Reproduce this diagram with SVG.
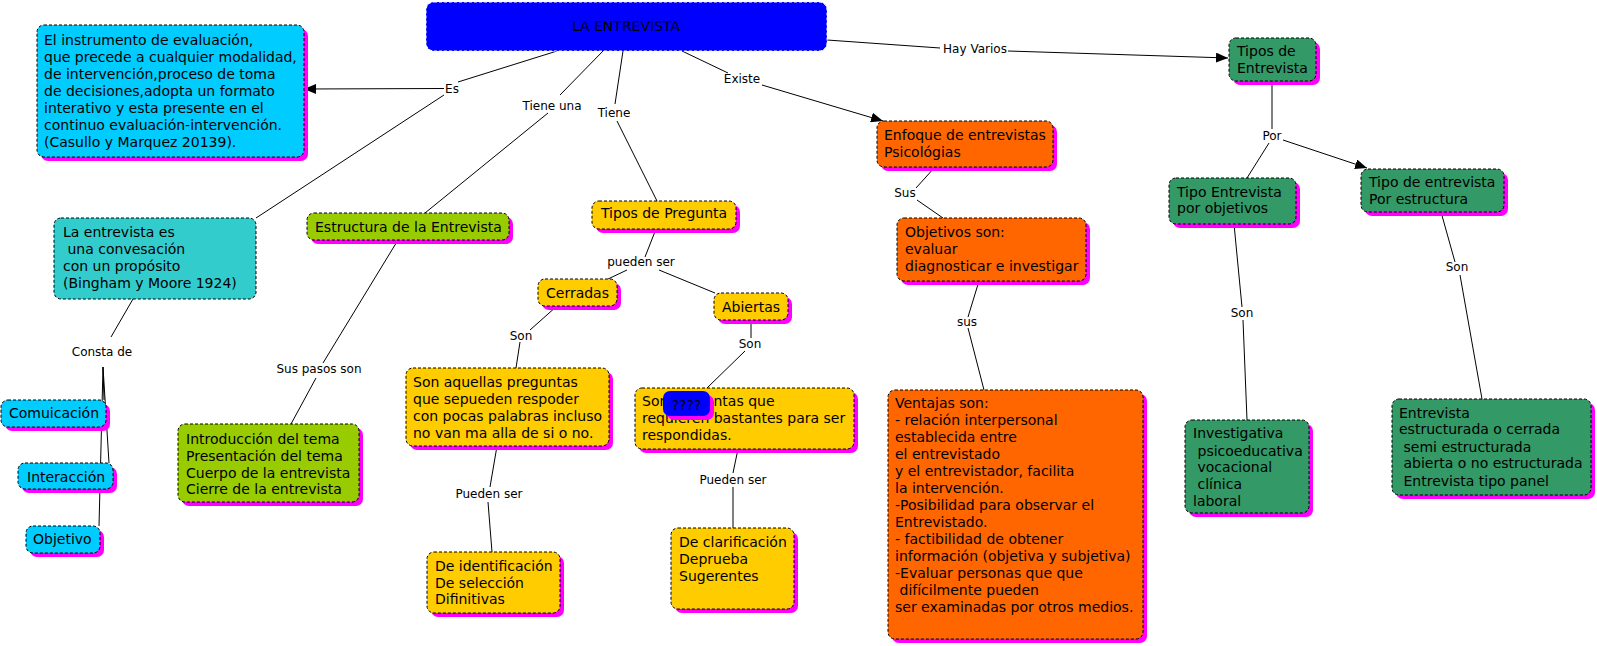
<svg xmlns="http://www.w3.org/2000/svg" width="1597" height="646" viewBox="0 0 1597 646">
<style>
.n{stroke:#000;stroke-width:1;stroke-dasharray:3,2}
.sh{fill:#FF00FF}
.t{font-family:"DejaVu Sans",Verdana,sans-serif;font-size:14px;fill:#000}
.l{font-family:"DejaVu Sans",Verdana,sans-serif;font-size:12px;fill:#000;text-anchor:middle}
.c line{stroke:#000;stroke-width:1}
.cyan{fill:#00CCFF}.teal{fill:#33CCCC}.lime{fill:#99CC00}.gold{fill:#FFCC00}.orng{fill:#FF6600}.grn{fill:#339966}.blue{fill:#0000FF}
</style>
<defs>
<marker id="ah" markerUnits="userSpaceOnUse" markerWidth="12" markerHeight="10" refX="12" refY="5" orient="auto">
<path d="M0,0 L12,5 L0,10 z" fill="#000"/>
</marker>
</defs>
<rect width="1597" height="646" fill="#fff"/>

<g id="connectors" class="c">
<line x1="557" y1="51" x2="458" y2="82"/>
<line x1="444" y1="88.5" x2="304" y2="89" marker-end="url(#ah)"/>
<line x1="444" y1="95" x2="256" y2="218"/>
<line x1="603" y1="51" x2="560" y2="95"/>
<line x1="548" y1="113" x2="425" y2="213"/>
<line x1="623" y1="51" x2="615" y2="104"/>
<line x1="617" y1="121" x2="657" y2="201"/>
<line x1="682" y1="51" x2="728" y2="73"/>
<line x1="762" y1="85" x2="883" y2="121" marker-end="url(#ah)"/>
<line x1="827" y1="40" x2="940" y2="48"/>
<line x1="1008" y1="51" x2="1228" y2="58" marker-end="url(#ah)"/>
<line x1="133" y1="299" x2="111" y2="337"/>
<line x1="103" y1="367" x2="104" y2="400"/>
<line x1="103" y1="367" x2="109" y2="463"/>
<line x1="103" y1="367" x2="99" y2="526"/>
<line x1="398" y1="240" x2="323" y2="363"/>
<line x1="316" y1="378" x2="291" y2="424"/>
<line x1="656" y1="229" x2="645" y2="257"/>
<line x1="627" y1="270" x2="608" y2="279"/>
<line x1="659" y1="270" x2="715" y2="293"/>
<line x1="557" y1="306" x2="530" y2="330"/>
<line x1="520" y1="342" x2="516" y2="368"/>
<line x1="751" y1="320" x2="751" y2="338"/>
<line x1="745" y1="351" x2="707" y2="388"/>
<line x1="497" y1="446" x2="490" y2="487"/>
<line x1="488" y1="502" x2="492" y2="552"/>
<line x1="738" y1="449" x2="733" y2="473"/>
<line x1="733" y1="487" x2="733" y2="528"/>
<line x1="935" y1="167" x2="916" y2="188"/>
<line x1="917" y1="200" x2="943" y2="218"/>
<line x1="979" y1="281" x2="968" y2="317"/>
<line x1="968" y1="328" x2="984" y2="390"/>
<line x1="1272" y1="81" x2="1272" y2="129"/>
<line x1="1269" y1="143" x2="1247" y2="178"/>
<line x1="1283" y1="140" x2="1367" y2="168" marker-end="url(#ah)"/>
<line x1="1234" y1="224" x2="1242" y2="307"/>
<line x1="1243" y1="320" x2="1247" y2="420"/>
<line x1="1441" y1="212" x2="1455" y2="262"/>
<line x1="1460" y1="275" x2="1482" y2="399"/>
<text class="l" x="452" y="93">Es</text>
<text class="l" x="552" y="110">Tiene una</text>
<text class="l" x="614" y="117">Tiene</text>
<text class="l" x="742" y="83">Existe</text>
<text class="l" x="975" y="53">Hay Varios</text>
<text class="l" x="102" y="356">Consta de</text>
<text class="l" x="319" y="373">Sus pasos son</text>
<text class="l" x="641" y="266">pueden ser</text>
<text class="l" x="521" y="340">Son</text>
<text class="l" x="750" y="348">Son</text>
<text class="l" x="489" y="498">Pueden ser</text>
<text class="l" x="733" y="484">Pueden ser</text>
<text class="l" x="905" y="197">Sus</text>
<text class="l" x="967" y="326">sus</text>
<text class="l" x="1272" y="140">Por</text>
<text class="l" x="1242" y="317">Son</text>
<text class="l" x="1457" y="271">Son</text>
</g>

<g id="main">
<rect x="426" y="2" width="401" height="49" rx="8" class="blue" stroke="#fff" stroke-width="1" stroke-dasharray="3,2"/>
<text class="t" x="626" y="31" text-anchor="middle" fill="#000022">LA ENTREVISTA</text>
</g>

<g id="definicion">
<rect x="41" y="29" width="267" height="132" rx="7" class="sh"/>
<rect x="37" y="25" width="267" height="132" rx="7" class="cyan n"/>
<text class="t"><tspan x="44" y="45">El instrumento de evaluación,</tspan><tspan x="44" y="62">que precede a cualquier modalidad,</tspan><tspan x="44" y="79">de intervención,proceso de toma</tspan><tspan x="44" y="96">de decisiones,adopta un formato</tspan><tspan x="44" y="113">interativo y esta presente en el</tspan><tspan x="44" y="130">continuo evaluación-intervención.</tspan><tspan x="44" y="147">(Casullo y Marquez 20139).</tspan></text>
</g>

<g id="conversacion">
<rect x="54" y="218" width="202" height="81" rx="7" class="teal n"/>
<text class="t"><tspan x="63" y="237">La entrevista es</tspan><tspan x="67.5" y="254">una convesación</tspan><tspan x="63" y="271">con un propósito</tspan><tspan x="63" y="288">(Bingham y Moore 1924)</tspan></text>
</g>

<g id="comunicacion">
<rect x="5" y="404" width="105" height="27" rx="7" class="sh"/>
<rect x="1" y="400" width="105" height="27" rx="7" class="cyan n"/>
<text class="t" x="9" y="418">Comuicación</text>
</g>

<g id="interaccion">
<rect x="22" y="467" width="95" height="26" rx="7" class="sh"/>
<rect x="18" y="463" width="95" height="26" rx="7" class="cyan n"/>
<text class="t" x="27" y="482">Interacción</text>
</g>

<g id="objetivo">
<rect x="30" y="530" width="74" height="27" rx="7" class="sh"/>
<rect x="26" y="526" width="74" height="27" rx="7" class="cyan n"/>
<text class="t" x="33" y="544">Objetivo</text>
</g>

<g id="estructura">
<rect x="311" y="217" width="202" height="27" rx="7" class="sh"/>
<rect x="307" y="213" width="202" height="27" rx="7" class="lime n"/>
<text class="t" x="315" y="232">Estructura de la Entrevista</text>
</g>

<g id="pasos">
<rect x="182" y="428" width="181" height="78" rx="7" class="sh"/>
<rect x="178" y="424" width="181" height="78" rx="7" class="lime n"/>
<text class="t"><tspan x="186" y="444">Introducción del tema</tspan><tspan x="186" y="461">Presentación del tema</tspan><tspan x="186" y="478">Cuerpo de la entrevista</tspan><tspan x="186" y="494">Cierre de la entrevista</tspan></text>
</g>

<g id="tipos-pregunta">
<rect x="596" y="205" width="144" height="28" rx="7" class="sh"/>
<rect x="592" y="201" width="144" height="28" rx="7" class="gold n"/>
<text class="t" x="601" y="218">Tipos de Pregunta</text>
</g>

<g id="cerradas">
<rect x="542" y="283" width="79" height="27" rx="7" class="sh"/>
<rect x="538" y="279" width="79" height="27" rx="7" class="gold n"/>
<text class="t" x="546" y="298">Cerradas</text>
</g>

<g id="abiertas">
<rect x="718" y="297" width="74" height="27" rx="7" class="sh"/>
<rect x="714" y="293" width="74" height="27" rx="7" class="gold n"/>
<text class="t" x="722" y="312">Abiertas</text>
</g>

<g id="def-cerradas">
<rect x="410" y="372" width="203" height="78" rx="7" class="sh"/>
<rect x="406" y="368" width="203" height="78" rx="7" class="gold n"/>
<text class="t"><tspan x="413" y="387">Son aquellas preguntas</tspan><tspan x="413" y="404">que sepueden respoder</tspan><tspan x="413" y="421">con pocas palabras incluso</tspan><tspan x="413" y="438">no van ma alla de si o no.</tspan></text>
</g>

<g id="def-abiertas">
<rect x="639" y="392" width="219" height="61" rx="7" class="sh"/>
<rect x="635" y="388" width="219" height="61" rx="7" class="gold n"/>
<text class="t"><tspan x="642" y="406">Son preguntas que</tspan><tspan x="642" y="423">requieren bastantes para ser</tspan><tspan x="642" y="440">respondidas.</tspan></text>
</g>

<g id="interrogantes">
<rect x="667" y="395" width="47" height="25" rx="7" class="sh"/>
<rect x="663" y="391" width="47" height="25" rx="7" class="blue"/>
<text class="t" x="686.5" y="410" text-anchor="middle" fill="#000066">????</text>
</g>

<g id="tipos-cerradas">
<rect x="431" y="556" width="133" height="61" rx="7" class="sh"/>
<rect x="427" y="552" width="133" height="61" rx="7" class="gold n"/>
<text class="t"><tspan x="435" y="571">De identificación</tspan><tspan x="435" y="588">De selección</tspan><tspan x="435" y="604">Difinitivas</tspan></text>
</g>

<g id="tipos-abiertas">
<rect x="675" y="532" width="123" height="81" rx="7" class="sh"/>
<rect x="671" y="528" width="123" height="81" rx="7" class="gold n"/>
<text class="t"><tspan x="679" y="547">De clarificación</tspan><tspan x="679" y="564">Deprueba</tspan><tspan x="679" y="581">Sugerentes</tspan></text>
</g>

<g id="enfoque">
<rect x="881" y="125" width="176" height="46" rx="7" class="sh"/>
<rect x="877" y="121" width="176" height="46" rx="7" class="orng n"/>
<text class="t"><tspan x="884" y="140">Enfoque de entrevistas</tspan><tspan x="884" y="157">Psicológias</tspan></text>
</g>

<g id="objetivos">
<rect x="901" y="222" width="189" height="63" rx="7" class="sh"/>
<rect x="897" y="218" width="189" height="63" rx="7" class="orng n"/>
<text class="t"><tspan x="905" y="237">Objetivos son:</tspan><tspan x="905" y="254">evaluar</tspan><tspan x="905" y="271">diagnosticar e investigar</tspan></text>
</g>

<g id="ventajas">
<rect x="892" y="394" width="255" height="249" rx="7" class="sh"/>
<rect x="888" y="390" width="255" height="249" rx="7" class="orng n"/>
<text class="t"><tspan x="895" y="408">Ventajas son:</tspan><tspan x="895" y="425">- relación interpersonal</tspan><tspan x="895" y="442">establecida entre</tspan><tspan x="895" y="459">el entrevistado</tspan><tspan x="895" y="476">y el entrevistador, facilita</tspan><tspan x="895" y="493">la intervención.</tspan><tspan x="895" y="510">-Posibilidad para observar el</tspan><tspan x="895" y="527">Entrevistado.</tspan><tspan x="895" y="544">- factibilidad de obtener</tspan><tspan x="895" y="561">información (objetiva y subjetiva)</tspan><tspan x="895" y="578">-Evaluar personas que que</tspan><tspan x="899.5" y="595">difícilmente pueden</tspan><tspan x="895" y="612">ser examinadas por otros medios.</tspan></text>
</g>

<g id="tipos-entrevista">
<rect x="1233" y="42" width="87" height="43" rx="7" class="sh"/>
<rect x="1229" y="38" width="87" height="43" rx="7" class="grn n"/>
<text class="t"><tspan x="1237" y="56">Tipos de</tspan><tspan x="1237" y="73">Entrevista</tspan></text>
</g>

<g id="por-objetivos">
<rect x="1173" y="182" width="127" height="46" rx="7" class="sh"/>
<rect x="1169" y="178" width="127" height="46" rx="7" class="grn n"/>
<text class="t"><tspan x="1177" y="197">Tipo Entrevista</tspan><tspan x="1177" y="213">por objetivos</tspan></text>
</g>

<g id="por-estructura">
<rect x="1365" y="173" width="143" height="43" rx="7" class="sh"/>
<rect x="1361" y="169" width="143" height="43" rx="7" class="grn n"/>
<text class="t"><tspan x="1369" y="187">Tipo de entrevista</tspan><tspan x="1369" y="204">Por estructura</tspan></text>
</g>

<g id="lista-objetivos">
<rect x="1189" y="424" width="124" height="93" rx="7" class="sh"/>
<rect x="1185" y="420" width="124" height="93" rx="7" class="grn n"/>
<text class="t"><tspan x="1193" y="438">Investigativa</tspan><tspan x="1197.5" y="456">psicoeducativa</tspan><tspan x="1197.5" y="472">vocacional</tspan><tspan x="1197.5" y="489">clínica</tspan><tspan x="1193" y="506">laboral</tspan></text>
</g>

<g id="lista-estructura">
<rect x="1396" y="403" width="199" height="96" rx="7" class="sh"/>
<rect x="1392" y="399" width="199" height="96" rx="7" class="grn n"/>
<text class="t"><tspan x="1399" y="418">Entrevista</tspan><tspan x="1399" y="434">estructurada o cerrada</tspan><tspan x="1403.5" y="452">semi estructurada</tspan><tspan x="1403.5" y="468">abierta o no estructurada</tspan><tspan x="1403.5" y="486">Entrevista tipo panel</tspan></text>
</g>
</svg>
